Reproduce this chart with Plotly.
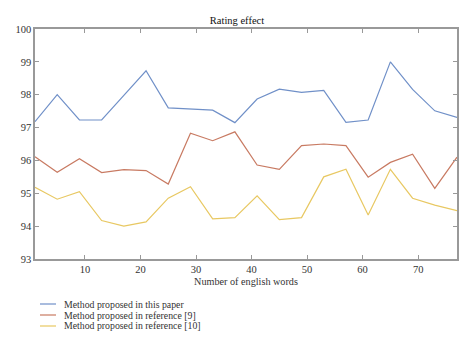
import plotly.graph_objects as go

words = [1, 5, 9, 13, 17, 21, 25, 29, 33, 37, 41, 45, 49, 53, 57, 61, 65, 69, 73, 77]
this_paper = [97.18, 98.0, 97.23, 97.23, 97.98, 98.73, 97.6, 97.57, 97.53, 97.15,
              97.87, 98.17, 98.07, 98.13, 97.16, 97.23, 99.0, 98.16, 97.51, 97.31]
ref9 = [96.11, 95.64, 96.05, 95.63, 95.72, 95.69, 95.28, 96.83, 96.6, 96.87,
        95.86, 95.73, 96.45, 96.5, 96.45, 95.49, 95.94, 96.19, 95.15, 96.1]
ref10 = [95.18, 94.82, 95.05, 94.17, 94.0, 94.13, 94.85, 95.2, 94.22, 94.26,
         94.92, 94.2, 94.26, 95.5, 95.73, 94.34, 95.73, 94.85, 94.64, 94.47]
names = ["Method proposed in this paper", "Method proposed in reference [9]",
         "Method proposed in reference [10]"]
colors = ["#7090c8", "#c87a62", "#e8c862"]
x_ticks = [10, 20, 30, 40, 50, 60, 70]
y_ticks = [93, 94, 95, 96, 97, 98, 99, 100]

W, H = 474, 351
ML, MR, MT, MB = 35, 17, 29, 92
PW, PH = W - ML - MR, H - MT - MB

fig = go.Figure()
for ys, n, c in zip([this_paper, ref9, ref10], names, colors):
    fig.add_trace(go.Scatter(x=words, y=ys, mode="lines", name=n,
                             line=dict(color=c, width=1.2)))

font = "Liberation Serif, Times New Roman, serif"

# manual legend below the plot (real text)
def px_x(p):
    return (p - ML) / PW

def px_y(p):
    return (H - MB - p) / PH

for i, (n, c) in enumerate(zip(names, colors)):
    yy = 304 + 11 * i
    fig.add_shape(type="line", xref="paper", yref="paper",
                  x0=px_x(40), x1=px_x(56), y0=px_y(yy), y1=px_y(yy),
                  line=dict(color=c, width=1.2))
    fig.add_annotation(xref="paper", yref="paper", x=px_x(62), y=px_y(yy),
                       xanchor="left", yanchor="middle", showarrow=False, text=n,
                       font=dict(family=font, size=9.8, color="#333333"))

axis_common = dict(showline=True, linecolor="#999999", linewidth=1.5, mirror="ticks",
                   ticks="inside", ticklen=4, tickcolor="#999999", showgrid=False,
                   zeroline=False, tickfont=dict(family=font, size=10.5, color="#333333"))
fig.update_layout(
    width=W, height=H,
    margin=dict(l=ML, r=MR, t=MT, b=MB, autoexpand=False),
    paper_bgcolor="white", plot_bgcolor="white",
    showlegend=False,
    title=dict(text="Rating effect", x=0.5, xanchor="center", y=1 - 20 / H, yanchor="middle",
               font=dict(family=font, size=10.5, color="#111111")),
    xaxis=dict(range=[1, 77], tickvals=x_ticks,
               title=dict(text="Number of english words", standoff=4,
                          font=dict(family=font, size=10.2, color="#333333")),
               **axis_common),
    yaxis=dict(range=[93, 100], tickvals=y_ticks, **axis_common),
)
fig.write_html("out.html")
